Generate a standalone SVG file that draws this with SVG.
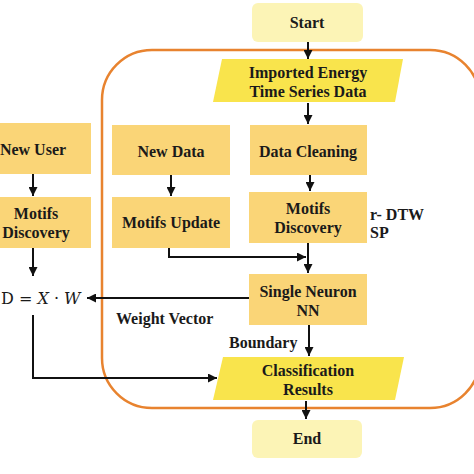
<svg xmlns="http://www.w3.org/2000/svg" width="474" height="474" viewBox="0 0 474 474">
<defs>
<marker id="ah" viewBox="0 0 10 10" refX="10" refY="5" markerWidth="4.5" markerHeight="4.5" orient="auto" markerUnits="strokeWidth">
<path d="M0,0 L10,5 L0,10 z" fill="#111"/>
</marker>
<style>
.t{font-family:"Liberation Serif","Times New Roman",serif;font-weight:bold;font-size:16px;fill:#1a1a1a;text-anchor:middle}
.tl{font-family:"Liberation Serif","Times New Roman",serif;font-weight:bold;font-size:16px;fill:#1a1a1a}
.box{fill:#FAD577}
.term{fill:#FCF4B6}
.io{fill:#F9E44C}
.c{fill:none;stroke:#111;stroke-width:2;marker-end:url(#ah)}
</style>
</defs>
<rect width="474" height="474" fill="#fff"/>
<g id="container">
<rect x="102" y="50" width="378" height="358" rx="50" ry="50" fill="none" stroke="#E8832F" stroke-width="2.5"/>
</g>
<g id="start"><rect class="term" x="252" y="3" width="111" height="39" rx="6"/><text class="t" x="307" y="28">Start</text></g>
<g id="imported"><polygon class="io" points="222,59 403,59 395,102 213,102"/><text class="t" x="308" y="78">Imported Energy</text><text class="t" x="308" y="97">Time Series Data</text></g>
<g id="new-user"><rect class="box" x="-5" y="123" width="96" height="51"/><text class="t" x="33" y="155">New User</text></g>
<g id="new-data"><rect class="box" x="112" y="125" width="118" height="50"/><text class="t" x="171" y="157">New Data</text></g>
<g id="data-cleaning"><rect class="box" x="250" y="125" width="117" height="50"/><text class="t" x="308" y="157">Data Cleaning</text></g>
<g id="motifs-discovery-left"><rect class="box" x="-5" y="197" width="96" height="51"/><text class="t" x="36" y="219">Motifs</text><text class="t" x="36" y="238">Discovery</text></g>
<g id="motifs-update"><rect class="box" x="112" y="197" width="118" height="51"/><text class="t" x="171" y="228">Motifs Update</text></g>
<g id="motifs-discovery"><rect class="box" x="249" y="192" width="118" height="51"/><text class="t" x="308" y="214">Motifs</text><text class="t" x="308" y="233">Discovery</text></g>
<g id="rdtw-label"><text class="tl" x="370" y="220">r- DTW</text><text class="tl" x="370" y="238">SP</text></g>
<g id="single-neuron"><rect class="box" x="249" y="274" width="118" height="51"/><text class="t" x="308" y="297">Single Neuron</text><text class="t" x="308" y="316">NN</text></g>
<g id="formula"><text x="1" y="304" font-family="'DejaVu Serif','Liberation Serif',serif" font-size="16" fill="#1a1a1a">D = <tspan font-style="italic">X</tspan> · <tspan font-style="italic">W</tspan></text></g>
<g id="weight-label"><text class="tl" x="116" y="324">Weight Vector</text></g>
<g id="boundary-label"><text class="tl" x="229" y="348">Boundary</text></g>
<g id="classification"><polygon class="io" points="223,357 404,357 395,400 213,400"/><text class="t" x="308" y="376">Classification</text><text class="t" x="308" y="395">Results</text></g>
<g id="end"><rect class="term" x="252" y="420" width="110" height="38" rx="6"/><text class="t" x="307" y="444">End</text></g>
<g id="connectors">
<line class="c" x1="308" y1="42" x2="308" y2="59"/>
<line class="c" x1="308" y1="103" x2="308" y2="124"/>
<line class="c" x1="310" y1="175" x2="310" y2="191"/>
<line class="c" x1="171" y1="175" x2="171" y2="196"/>
<line class="c" x1="33" y1="174" x2="33" y2="196"/>
<line class="c" x1="33" y1="248" x2="33" y2="276"/>
<polyline class="c" points="169,248 169,257 306,257"/>
<line class="c" x1="308" y1="243" x2="308" y2="273"/>
<line class="c" x1="249" y1="298" x2="87" y2="298"/>
<polyline class="c" points="33,315 33,378 217,378"/>
<line class="c" x1="309" y1="325" x2="309" y2="356"/>
<line class="c" x1="306" y1="401" x2="306" y2="419"/>
</g>
</svg>
